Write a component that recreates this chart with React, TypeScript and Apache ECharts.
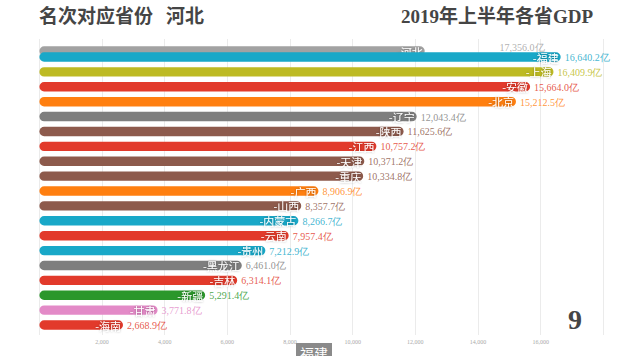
import React, { useEffect, useRef } from "react";
import * as echarts from "echarts";

const provinces = ["河北", "福建", "上海", "安徽", "北京", "辽宁", "陕西", "江西", "天津", "重庆", "广西", "山西", "内蒙古", "云南", "贵州", "黑龙江", "吉林", "新疆", "甘肃", "海南"];
const gdp = [17356.0, 16640.2, 16409.9, 15664.0, 15212.5, 12043.4, 11625.6, 10757.2, 10371.2, 10334.8, 8906.9, 8357.7, 8266.7, 7957.4, 7212.9, 6461.0, 6314.1, 5291.4, 3771.8, 2668.9];
// rank slot of each bar in this animation frame (河北 is moving between slots)
const rankPos = [0.6, 1, 2, 3, 4, 5, 6, 7, 8, 9, 10, 11, 12, 13, 14, 15, 16, 17, 18, 19];
// bar length drawn in this frame (河北 still growing)
const frameLength = [12300, 16640.2, 16409.9, 15664.0, 15212.5, 12043.4, 11625.6, 10757.2, 10371.2, 10334.8, 8906.9, 8357.7, 8266.7, 7957.4, 7212.9, 6461.0, 6314.1, 5291.4, 3771.8, 2668.9];
// where the value label sits in this frame
const labelAnchor = [14560, 16640.2, 16409.9, 15664.0, 15212.5, 12043.4, 11625.6, 10757.2, 10371.2, 10334.8, 8906.9, 8357.7, 8266.7, 7957.4, 7212.9, 6461.0, 6314.1, 5291.4, 3771.8, 2668.9];
const labelRank = [0.32, 1, 2, 3, 4, 5, 6, 7, 8, 9, 10, 11, 12, 13, 14, 15, 16, 17, 18, 19];
const xTicks = [0, 2000, 4000, 6000, 8000, 10000, 12000, 14000, 16000, 18000];
const frameNumber = "9";
const currentName = "河北";
const bottomName = "福建";

const GRAY1 = "#a2a2a2";
const CYAN = "#19a8c8";
const OLIVE = "#bdba23";
const RED = "#e23a2b";
const ORANGE = "#ff7f10";
const GRAY2 = "#7e7e7e";
const BROWN = "#8d5a4c";
const GREEN = "#2b972b";
const PINK = "#e38ac7";
const barColors = [GRAY1, CYAN, OLIVE, RED, ORANGE, GRAY2, BROWN, RED, BROWN, BROWN, ORANGE, BROWN, CYAN, RED, CYAN, GRAY2, RED, GREEN, PINK, RED];

const fmt = (v: number) =>
  v.toLocaleString("en-US", { minimumFractionDigits: 1, maximumFractionDigits: 1 }) + "亿";

export default function App() {
  const ref = useRef<HTMLDivElement>(null);
  useEffect(() => {
    if (!ref.current) return;
    const chart = echarts.init(ref.current, undefined, { renderer: "svg" });
    const data = provinces.map((_, i) => [frameLength[i], rankPos[i], labelAnchor[i], labelRank[i], gdp[i]]);
    const option: any = {
      animation: false,
      backgroundColor: "#ffffff",
      grid: { left: 39.4, right: 29.7, top: 39, bottom: 21 },
      xAxis: {
        type: "value",
        min: xTicks[0],
        max: xTicks[xTicks.length - 1],
        interval: 2000,
        axisLine: { show: false },
        axisTick: { show: false },
        axisLabel: {
          showMinLabel: false,
          showMaxLabel: false,
          fontSize: 6,
          color: "#aaaaaa",
          margin: 4,
          fontFamily: "Liberation Serif",
        },
        splitLine: { show: true, lineStyle: { color: "#ebebeb", width: 1 } },
      },
      yAxis: {
        type: "value",
        inverse: true,
        min: -0.21,
        max: 19.67,
        show: false,
        splitLine: { show: false },
      },
      series: [
        {
          type: "custom",
          clip: false,
          data,
          renderItem: (params: any, api: any) => {
            const i = params.dataIndex;
            const len = api.value(0);
            const pos = api.value(1);
            const s = api.coord([0, pos]);
            const e = api.coord([len, pos]);
            const la = api.coord([api.value(2), api.value(3)]);
            const h = 9.4;
            return {
              type: "group",
              children: [
                {
                  type: "rect",
                  shape: { x: s[0], y: s[1] - h / 2, width: e[0] - s[0], height: h, r: h / 2 },
                  style: { fill: barColors[i] },
                },
                {
                  type: "text",
                  style: {
                    text: "-" + provinces[i],
                    x: e[0] - 2,
                    y: e[1] + 0.5,
                    align: "right",
                    verticalAlign: "middle",
                    fill: "#ffffff",
                    fontSize: 11,
                    fontFamily: "Noto Sans CJK SC",
                    textShadowColor: "rgba(0,0,0,0.35)",
                    textShadowBlur: 2,
                  },
                },
                {
                  type: "text",
                  style: {
                    text: fmt(api.value(4)),
                    x: la[0] + 4,
                    y: la[1] + 0.5,
                    align: "left",
                    verticalAlign: "middle",
                    fill: barColors[i],
                    opacity: 0.85,
                    fontSize: 10,
                    fontFamily: "Liberation Serif",
                  },
                },
              ],
            };
          },
        },
      ],
      graphic: [
        {
          type: "text",
          left: 39,
          top: 5,
          style: {
            text: "名次对应省份",
            fontSize: 19,
            fontWeight: "bold",
            fontFamily: "Noto Sans CJK SC",
            fill: "#454545",
          },
        },
        {
          type: "text",
          left: 166,
          top: 5,
          style: {
            text: currentName,
            fontSize: 19,
            fontWeight: "bold",
            fontFamily: "Noto Sans CJK SC",
            fill: "#454545",
          },
        },
        {
          type: "text",
          left: 401,
          top: 7,
          style: {
            text: "2019年上半年各省GDP",
            fontSize: 19,
            fontWeight: "bold",
            fontFamily: "'Liberation Serif', 'Noto Sans CJK SC'",
            fill: "#454545",
          },
        },
        {
          type: "text",
          x: 575,
          y: 333,
          style: {
            text: frameNumber,
            fontSize: 28,
            fontWeight: "bold",
            fontFamily: "Liberation Serif",
            fill: "#454545",
            align: "center",
            verticalAlign: "bottom",
          },
        },
        {
          type: "text",
          left: 296,
          top: 343,
          style: {
            text: bottomName,
            fontSize: 14,
            fontFamily: "Noto Sans CJK SC",
            fill: "#ffffff",
            backgroundColor: "#8a8a8a",
            padding: [3, 4, 3, 4],
          },
        },
      ],
    };
    chart.setOption(option);
    return () => chart.dispose();
  }, []);
  return (
    <div
      ref={ref}
      style={{ position: "fixed", left: 0, top: 0, width: 633, height: 356, background: "#fff" }}
    />
  );
}
